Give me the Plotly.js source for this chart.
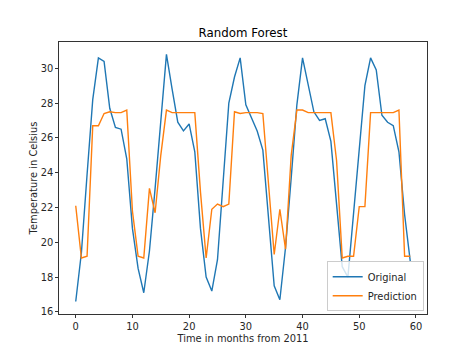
<!DOCTYPE html>
<html>
<head>
<meta charset="utf-8">
<script src="https://cdn.plot.ly/plotly-3.0.1.min.js"></script>
<style>html,body{margin:0;padding:0;background:#fff;}#chart{width:474px;height:353px;}</style>
</head>
<body>
<div id="chart"></div>
<script>
// Time in months from 2011
const months = Array.from({length: 60}, (_, i) => i);
// Original temperatures (Celsius)
const original = [
  16.6, 19.4, 23.9, 28.2, 30.6, 30.4, 27.7, 26.6, 26.5, 24.8,
  20.8, 18.5, 17.1, 19.5, 23.1, 27.1, 30.8, 28.8, 26.9, 26.4,
  26.8, 25.2, 20.8, 18.0, 17.2, 19.0, 23.3, 28.0, 29.5, 30.6,
  27.9, 27.1, 26.4, 25.3, 21.4, 17.5, 16.7, 19.7, 23.7, 27.9,
  30.6, 29.1, 27.5, 27.0, 27.1, 25.8, 22.3, 18.6, 18.0, 21.6,
  25.4, 29.0, 30.6, 29.9, 27.3, 26.9, 26.7, 25.2, 21.6, 18.9
];
// Random Forest predictions (Celsius)
const prediction = [
  22.1, 19.1, 19.2, 26.7, 26.7, 27.4, 27.5, 27.45, 27.45, 27.6,
  21.8, 19.2, 19.1, 23.1, 21.7, 25.0, 27.6, 27.45, 27.45, 27.45,
  27.45, 27.45, 22.9, 19.1, 21.9, 22.2, 22.05, 22.2, 27.5, 27.4,
  27.45, 27.45, 27.45, 27.4, 23.4, 19.3, 21.9, 19.6, 25.0, 27.6,
  27.6, 27.45, 27.45, 27.45, 27.45, 27.45, 24.7, 19.1, 19.2, 19.2,
  22.05, 22.05, 27.45, 27.45, 27.45, 27.45, 27.45, 27.6, 19.2, 19.2
];
const seriesNames = ['Original', 'Prediction'];
const chartTitle = 'Random Forest';
const xTitle = 'Time in months from 2011';
const yTitle = 'Temperature in Celsius';
const xTicks = [0, 10, 20, 30, 40, 50, 60];
const yTicks = [16, 18, 20, 22, 24, 26, 28, 30];

const font = {family: 'DejaVu Sans, sans-serif', size: 9.9, color: '#262626'};

const traces = [
  {x: months, y: original, name: seriesNames[0], type: 'scatter', mode: 'lines',
   line: {color: '#1f77b4', width: 1.4}},
  {x: months, y: prediction, name: seriesNames[1], type: 'scatter', mode: 'lines',
   line: {color: '#ff7f0e', width: 1.4}}
];

const axisCommon = {
  showgrid: false, zeroline: false, showline: true, mirror: true,
  linecolor: '#000', linewidth: 0.8, ticks: 'outside', ticklen: 3,
  tickwidth: 0.8, tickcolor: '#000', tickfont: font
};

const layout = {
  width: 474, height: 353,
  margin: {l: 59, r: 47, t: 42, b: 39, pad: 0},
  paper_bgcolor: '#fff', plot_bgcolor: '#fff',
  font: font,
  title: {text: chartTitle, font: {family: 'DejaVu Sans, sans-serif', size: 11.8, color: '#000'},
          x: 0.5, xref: 'paper', y: 1 - 33/353, yref: 'container', yanchor: 'middle'},
  xaxis: Object.assign({}, axisCommon, {
    range: [-2.95, 61.95], tickvals: xTicks, ticktext: xTicks.map(String),
    title: {text: xTitle, font: font, standoff: 4}
  }),
  yaxis: Object.assign({}, axisCommon, {
    range: [15.88, 31.51], tickvals: yTicks, ticktext: yTicks.map(String),
    title: {text: yTitle, font: font, standoff: 1}
  }),
  showlegend: true,
  legend: {x: 0.991, y: 0.01, xanchor: 'right', yanchor: 'bottom',
           bgcolor: 'rgba(255,255,255,0.8)', bordercolor: '#cccccc', borderwidth: 1,
           font: font, tracegroupgap: 0, itemwidth: 30}
};

Plotly.newPlot('chart', traces, layout, {displayModeBar: false, staticPlot: true});
</script>
</body>
</html>
